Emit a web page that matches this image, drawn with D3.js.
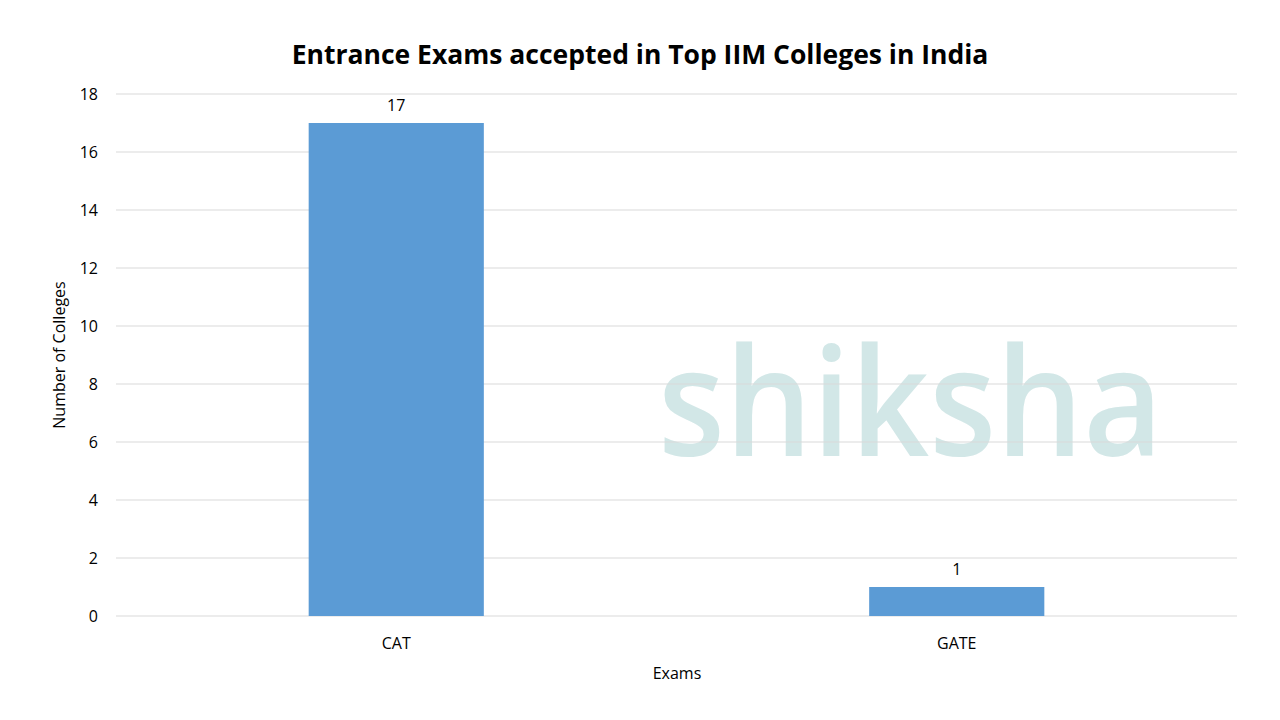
<!DOCTYPE html>
<html>
<head>
<meta charset="utf-8">
<script src="https://cdn.jsdelivr.net/npm/d3@7"></script>
<style>
  body { margin: 0; background: #fff; }
  text { font-family: "Open Sans", "Liberation Sans", sans-serif; }
</style>
</head>
<body>
<div id="chart"></div>
<script>
const categories = ["CAT", "GATE"];
const values = [17, 1];
const yTicks = [0, 2, 4, 6, 8, 10, 12, 14, 16, 18];

const W = 1280, H = 720;
const plotLeft = 116, plotRight = 1237, plotTop = 94, plotBottom = 616;

const svg = d3.select("#chart").append("svg")
    .attr("width", W).attr("height", H);

// faint watermark
svg.append("text")
    .attr("x", 658).attr("y", 456)
    .attr("textLength", 505)
    .attr("lengthAdjust", "spacingAndGlyphs")
    .style("font-size", "150px")
    .style("font-weight", "600")
    .style("fill", "#d2e7e7")
    .text("shiksha");

const x = d3.scaleBand()
    .domain(categories)
    .range([plotLeft, plotRight])
    .paddingInner(0.6875)
    .paddingOuter(0.34375);

const y = d3.scaleLinear().domain([0, 18]).range([plotBottom, plotTop]);

// gridlines
svg.append("g").selectAll("line")
    .data(yTicks).join("line")
    .attr("x1", plotLeft).attr("x2", plotRight)
    .attr("y1", d => y(d)).attr("y2", d => y(d))
    .attr("stroke", "#d9d9d9").attr("stroke-width", 1);

// y tick labels
svg.append("g").selectAll("text")
    .data(yTicks).join("text")
    .attr("x", 98).attr("y", d => y(d) + 6)
    .attr("text-anchor", "end")
    .style("font-size", "16px").style("fill", "#000")
    .text(d => d);

// bars
svg.append("g").selectAll("rect")
    .data(values).join("rect")
    .attr("x", (d, i) => x(categories[i]))
    .attr("width", x.bandwidth())
    .attr("y", d => y(d))
    .attr("height", d => plotBottom - y(d))
    .attr("fill", "#5b9bd5");

// value labels
svg.append("g").selectAll("text")
    .data(values).join("text")
    .attr("x", (d, i) => x(categories[i]) + x.bandwidth() / 2)
    .attr("y", d => y(d) - 12)
    .attr("text-anchor", "middle")
    .style("font-size", "16px")
    .text(d => d);

// category labels
svg.append("g").selectAll("text")
    .data(categories).join("text")
    .attr("x", d => x(d) + x.bandwidth() / 2)
    .attr("y", 649)
    .attr("text-anchor", "middle")
    .style("font-size", "16px")
    .text(d => d);

// title
svg.append("text")
    .attr("x", 640).attr("y", 64)
    .attr("text-anchor", "middle")
    .style("font-size", "26.5px").style("font-weight", "bold")
    .text("Entrance Exams accepted in Top IIM Colleges in India");

// axis titles
svg.append("text")
    .attr("x", 677).attr("y", 679)
    .attr("text-anchor", "middle")
    .style("font-size", "16px")
    .text("Exams");

svg.append("text")
    .attr("transform", "translate(65,355) rotate(-90)")
    .attr("text-anchor", "middle")
    .style("font-size", "16px")
    .text("Number of Colleges");
</script>
</body>
</html>
